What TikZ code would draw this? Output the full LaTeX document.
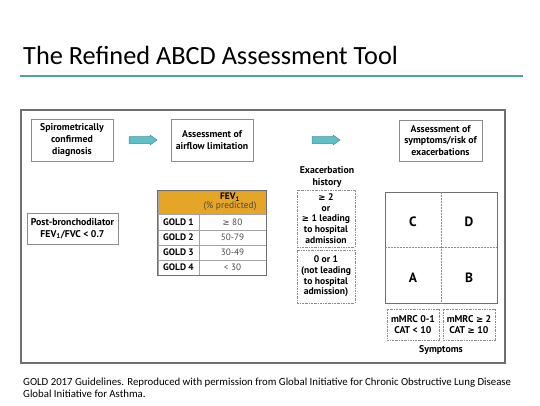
\documentclass[tikz,border=0pt]{standalone}
\usepackage{fontspec}
\setmainfont{PT Sans}
\newfontfamily\titlefont{Carlito}
\newfontfamily\symf{DejaVu Sans}
\definecolor{tealline}{HTML}{4AA3B3}
\definecolor{framegray}{HTML}{707070}
\definecolor{boxgray}{HTML}{8C8C8C}
\definecolor{arrowfill}{HTML}{5FBFC6}
\definecolor{arrowdraw}{HTML}{3F9198}
\definecolor{hdrorange}{HTML}{E5A526}
\definecolor{valgray}{HTML}{4A4A4A}
\tikzset{
  x=1pt, y=-1pt,
  boxtext/.style={font=\bfseries\fontsize{9.8}{11.8}\selectfont, align=center},
  stepbox/.style={draw=boxgray, line width=0.9pt, fill=white, boxtext, inner sep=1pt},
  dashbox/.style={draw=boxgray, line width=0.7pt, dash pattern=on 2pt off 1pt on 0.6pt off 1pt, boxtext, inner sep=1pt},
  tightbox/.style={dashbox, font=\bfseries\fontsize{9.6}{10.6}\selectfont},
  blockarrow/.style={fill=arrowfill, draw=arrowdraw, line width=0.5pt, line join=miter},
  cell/.style={draw=boxgray!80, line width=0.5pt, inner sep=0pt},
  labtext/.style={font=\bfseries\fontsize{9.4}{10}\selectfont},
  valtext/.style={font=\fontsize{9.2}{10}\selectfont, text=valgray},
  letter/.style={font=\bfseries\fontsize{13.5}{15}\selectfont},
}
\begin{document}
\begin{tikzpicture}
\useasboundingbox (0,0) rectangle (540,405);
% title
\node[anchor=base west, inner sep=0, font=\titlefont\fontsize{26.3}{28}\selectfont] (title) at (23,64) {The Refined ABCD Assessment Tool};
\coordinate (tl1) at (20,76);
\coordinate (tl2) at (523,76);
\draw[tealline, line width=1.3pt] (tl1) -- (tl2);
% frame
\coordinate (fr1) at (21,110);
\coordinate (fr2) at (505,363);
\draw[framegray, line width=1.3pt] (fr1) rectangle (fr2);
% top flow
\node[stepbox, minimum width=82pt, minimum height=42pt] (spiro) at (72,140) {Spirometrically\\confirmed\\diagnosis};
\coordinate (arr1) at (143,140);
\draw[blockarrow, shift={(arr1)}] (-14,-3.5) -- (7,-3.5) -- (7,-5) -- (14,0) -- (7,5) -- (7,3.5) -- (-14,3.5) -- cycle;
\node[stepbox, minimum width=82pt, minimum height=42pt] (airflow) at (212,140) {Assessment of\\airflow limitation};
\coordinate (arr2) at (326,140);
\draw[blockarrow, shift={(arr2)}] (-14,-3.5) -- (7,-3.5) -- (7,-5) -- (14,0) -- (7,5) -- (7,3.5) -- (-14,3.5) -- cycle;
\node[stepbox, minimum width=83pt, minimum height=41pt] (sympt) at (440.5,140.5) {Assessment of\\symptoms/risk of\\exacerbations};
% post-bronchodilator
\node[stepbox, minimum width=91pt, minimum height=31pt] (post) at (72.5,228.5) {Post-bronchodilator\\FEV\textsubscript{1}/FVC < 0.7};
% table
\node[cell, fill=hdrorange, minimum width=108pt, minimum height=23pt] (hdr) at (212,202.5) {};
\node[align=center, inner sep=0, font=\fontsize{9.4}{9.8}\selectfont] (hdrtxt) at (230,202) {\textbf{FEV\textsubscript{1}}\\[-0.5pt]{\color{valgray}(\% predicted)}};
\node[cell, labtext, minimum width=41pt, minimum height=16pt] (g1) at (178.5,222) {GOLD 1};
\node[cell, valtext, minimum width=67pt, minimum height=16pt] (v1) at (232.5,222) {{\symf\fontsize{8.4}{10}\selectfont ≥} 80};
\node[cell, labtext, minimum width=41pt, minimum height=15pt] (g2) at (178.5,237.5) {GOLD 2};
\node[cell, valtext, minimum width=67pt, minimum height=15pt] (v2) at (232.5,237.5) {50-79};
\node[cell, labtext, minimum width=41pt, minimum height=15pt] (g3) at (178.5,252.5) {GOLD 3};
\node[cell, valtext, minimum width=67pt, minimum height=15pt] (v3) at (232.5,252.5) {30-49};
\node[cell, labtext, minimum width=41pt, minimum height=15pt] (g4) at (178.5,267.5) {GOLD 4};
\node[cell, valtext, minimum width=67pt, minimum height=15pt] (v4) at (232.5,267.5) {< 30};
\draw[framegray, line width=1pt] (hdr.north west) rectangle (v4.south east);
% exacerbation history
\node[boxtext] (exh) at (327,177) {Exacerbation\\history};
\node[tightbox, minimum width=58pt, minimum height=57pt] (ex1) at (326,218.5) {{\symf\bfseries\fontsize{8.6}{10}\selectfont ≥} 2\\or\\{\symf\bfseries\fontsize{8.6}{10}\selectfont ≥} 1 leading\\to hospital\\admission};
\node[tightbox, minimum width=58pt, minimum height=53pt] (ex0) at (326,276.5) {0 or 1\\(not leading\\to hospital\\admission)};
% grid
\node[draw=framegray, line width=0.9pt, minimum width=112pt, minimum height=111pt, inner sep=0] (grid) at (441,247.5) {};
\draw[boxgray, line width=0.6pt, dash pattern=on 2pt off 1pt] (grid.north) -- (grid.south);
\draw[boxgray, line width=0.6pt, dash pattern=on 2pt off 1pt] (grid.west) -- (grid.east);
\node[letter] (C) at (413,222) {C};
\node[letter] (D) at (469,222) {D};
\node[letter] (A) at (413,278) {A};
\node[letter] (B) at (469,278) {B};
\node[dashbox, minimum width=52pt, minimum height=31pt] (s1) at (413,324.5) {mMRC 0-1\\CAT < 10};
\node[dashbox, minimum width=52pt, minimum height=31pt] (s2) at (469,324.5) {mMRC {\symf\bfseries\fontsize{8.6}{10}\selectfont ≥} 2\\CAT {\symf\bfseries\fontsize{8.6}{10}\selectfont ≥} 10};
\node[boxtext] (symp) at (441,350) {Symptoms};
% footer
\node[anchor=north west, align=left, inner sep=0, font=\titlefont\fontsize{10.8}{12}\selectfont] (foot) at (23,378) {GOLD 2017 Guidelines. Reproduced with permission from Global Initiative for Chronic Obstructive Lung Disease\\Global Initiative for Asthma.};
\end{tikzpicture}
\end{document}
